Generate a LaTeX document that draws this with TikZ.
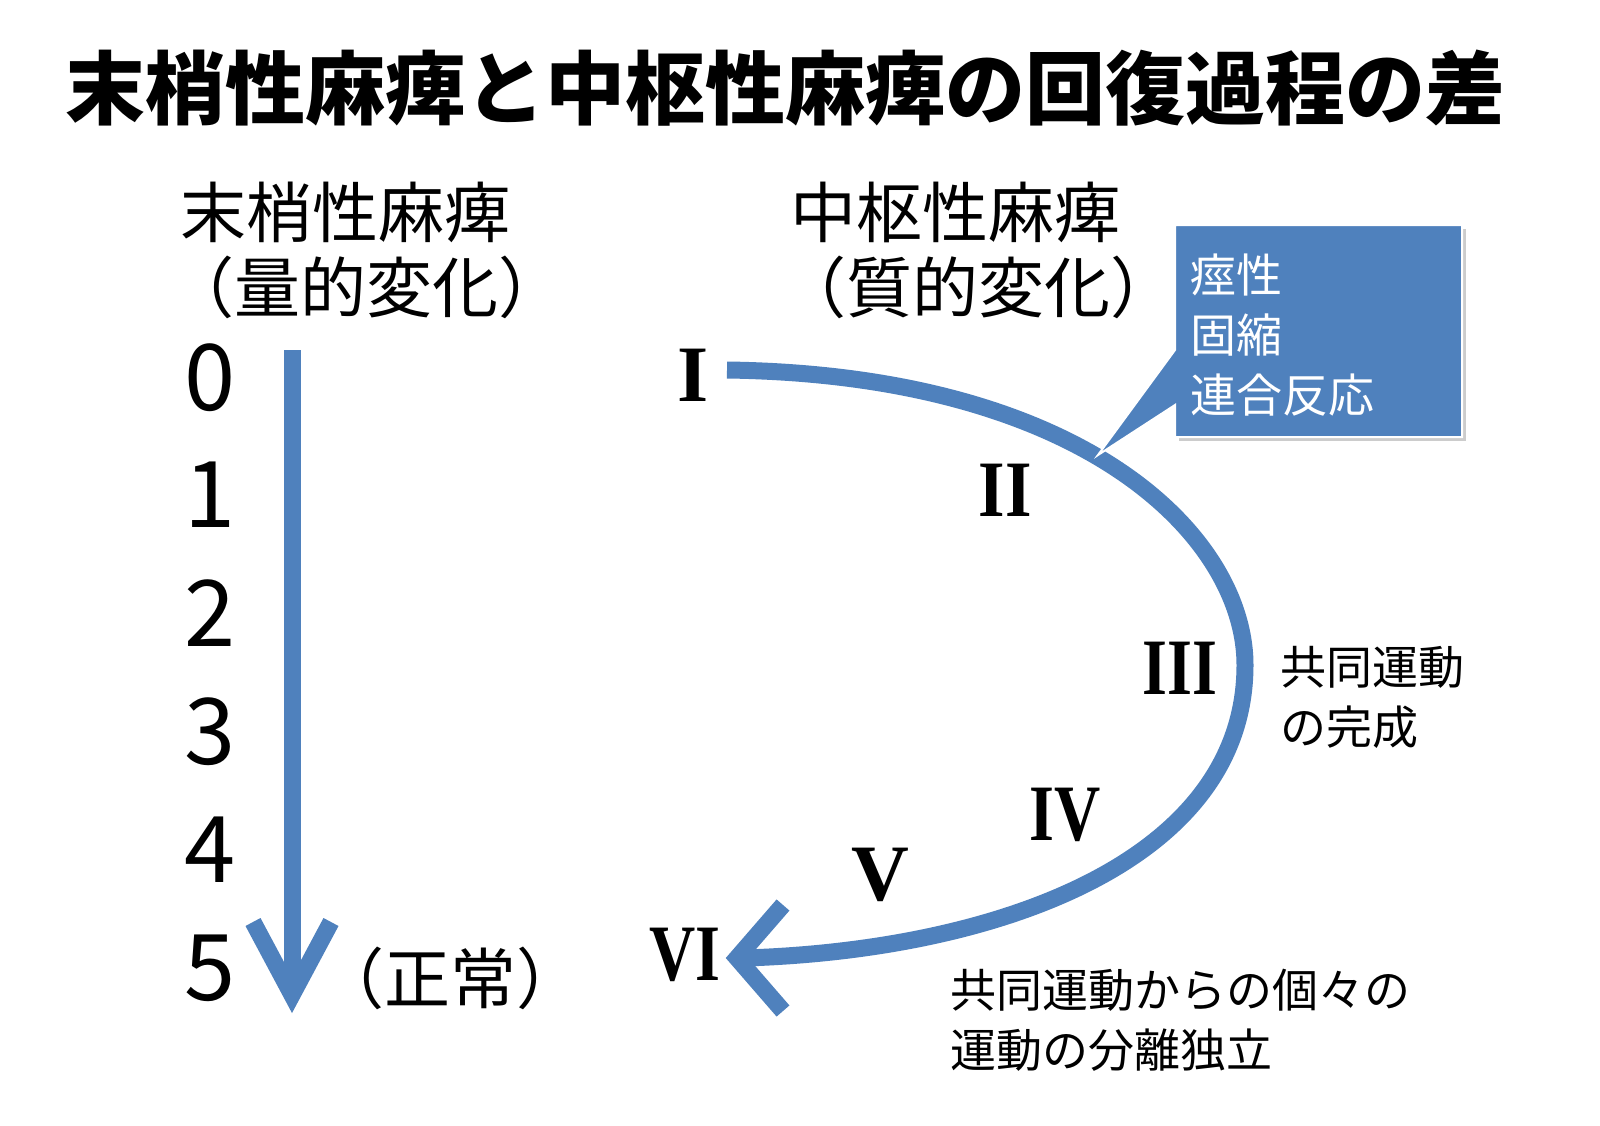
\documentclass[tikz,border=0pt]{standalone}
\usepackage{fontspec}
\newfontfamily\cjk{Noto Sans CJK JP}
\newfontfamily\rom{Liberation Serif}
\definecolor{bl}{RGB}{79,129,189}
\begin{document}
\begin{tikzpicture}[x=1pt,y=-1pt,
  t/.style={font=\cjk\fontsize{66}{70}\selectfont,anchor=west,inner sep=0},
  sm/.style={font=\cjk\fontsize{46}{60}\selectfont,anchor=west,inner sep=0,align=left},
  num/.style={font=\cjk\fontsize{92}{92}\selectfont,inner sep=0},
  rn/.style={font=\rom\bfseries\fontsize{80}{80}\selectfont,inner sep=0},
  ar/.style={draw=bl,line width=17pt,line cap=butt}]
\useasboundingbox (0,0) rectangle (1600,1126);
\fill[white] (0,0) rectangle (1600,1126);
% title
\node[font=\cjk\bfseries\fontsize{80}{82}\selectfont,inner sep=0] (title) at (785,88) {末梢性麻痺と中枢性麻痺の回復過程の差};
% left
\node[t] (l1) at (180,212) {末梢性麻痺};
\node[t] (l2) at (168,287) {（量的変化）};
\foreach \n/\y in {0/378,1/495,2/613,3/732,4/850,5/968}
  \node[num] (n\n) at (210,\y) {\n};
\coordinate (as) at (292,350);
\coordinate (ae) at (292,990);
\draw[ar] (as) -- (ae);
\draw[ar,line join=miter] (253,922) -- (292,995) -- (331,922);
\node[t] (norm) at (318,978) {（正常）};
% right
\node[t] (r1) at (790,212) {中枢性麻痺};
\node[t] (r2) at (780,287) {（質的変化）};
\node[rn] (R1) at (693,375) {I};
\node[rn,xscale=0.85] (R2) at (1005,490) {II};
\node[rn,xscale=0.8] (R3) at (1180,668) {III};
\node[rn,xscale=0.8] (R4) at (1065,815) {IV};
\node[rn] (R5) at (880,875) {V};
\node[rn,xscale=0.8] (R6) at (685,955) {VI};
\coordinate (cs) at (727,370);
\coordinate (cm) at (1245,665);
\coordinate (ce) at (745,958);
\draw[ar] (cs) .. controls (1090,375) and (1245,540) .. (cm) .. controls (1245,860) and (1000,950) .. (ce);
\draw[ar,line join=miter] (783,905) -- (737,958) -- (783,1011);
% callout
\fill[gray!40] (1179,229) rectangle (1466,441);
\draw[white,line width=2pt,fill=bl] (1175,225) -- (1462,225) -- (1462,437) -- (1175,437) -- (1175,405) -- (1098,455) -- (1175,350) -- cycle;
\node[sm,text=white] (c1) at (1190,275) {痙性};
\node[sm,text=white] (c2) at (1190,335) {固縮};
\node[sm,text=white] (c3) at (1190,395) {連合反応};
\node[sm] (k1) at (1280,697) {共同運動\\の完成};
\node[sm] (k2) at (950,1020) {共同運動からの個々の\\運動の分離独立};
\end{tikzpicture}
\end{document}
